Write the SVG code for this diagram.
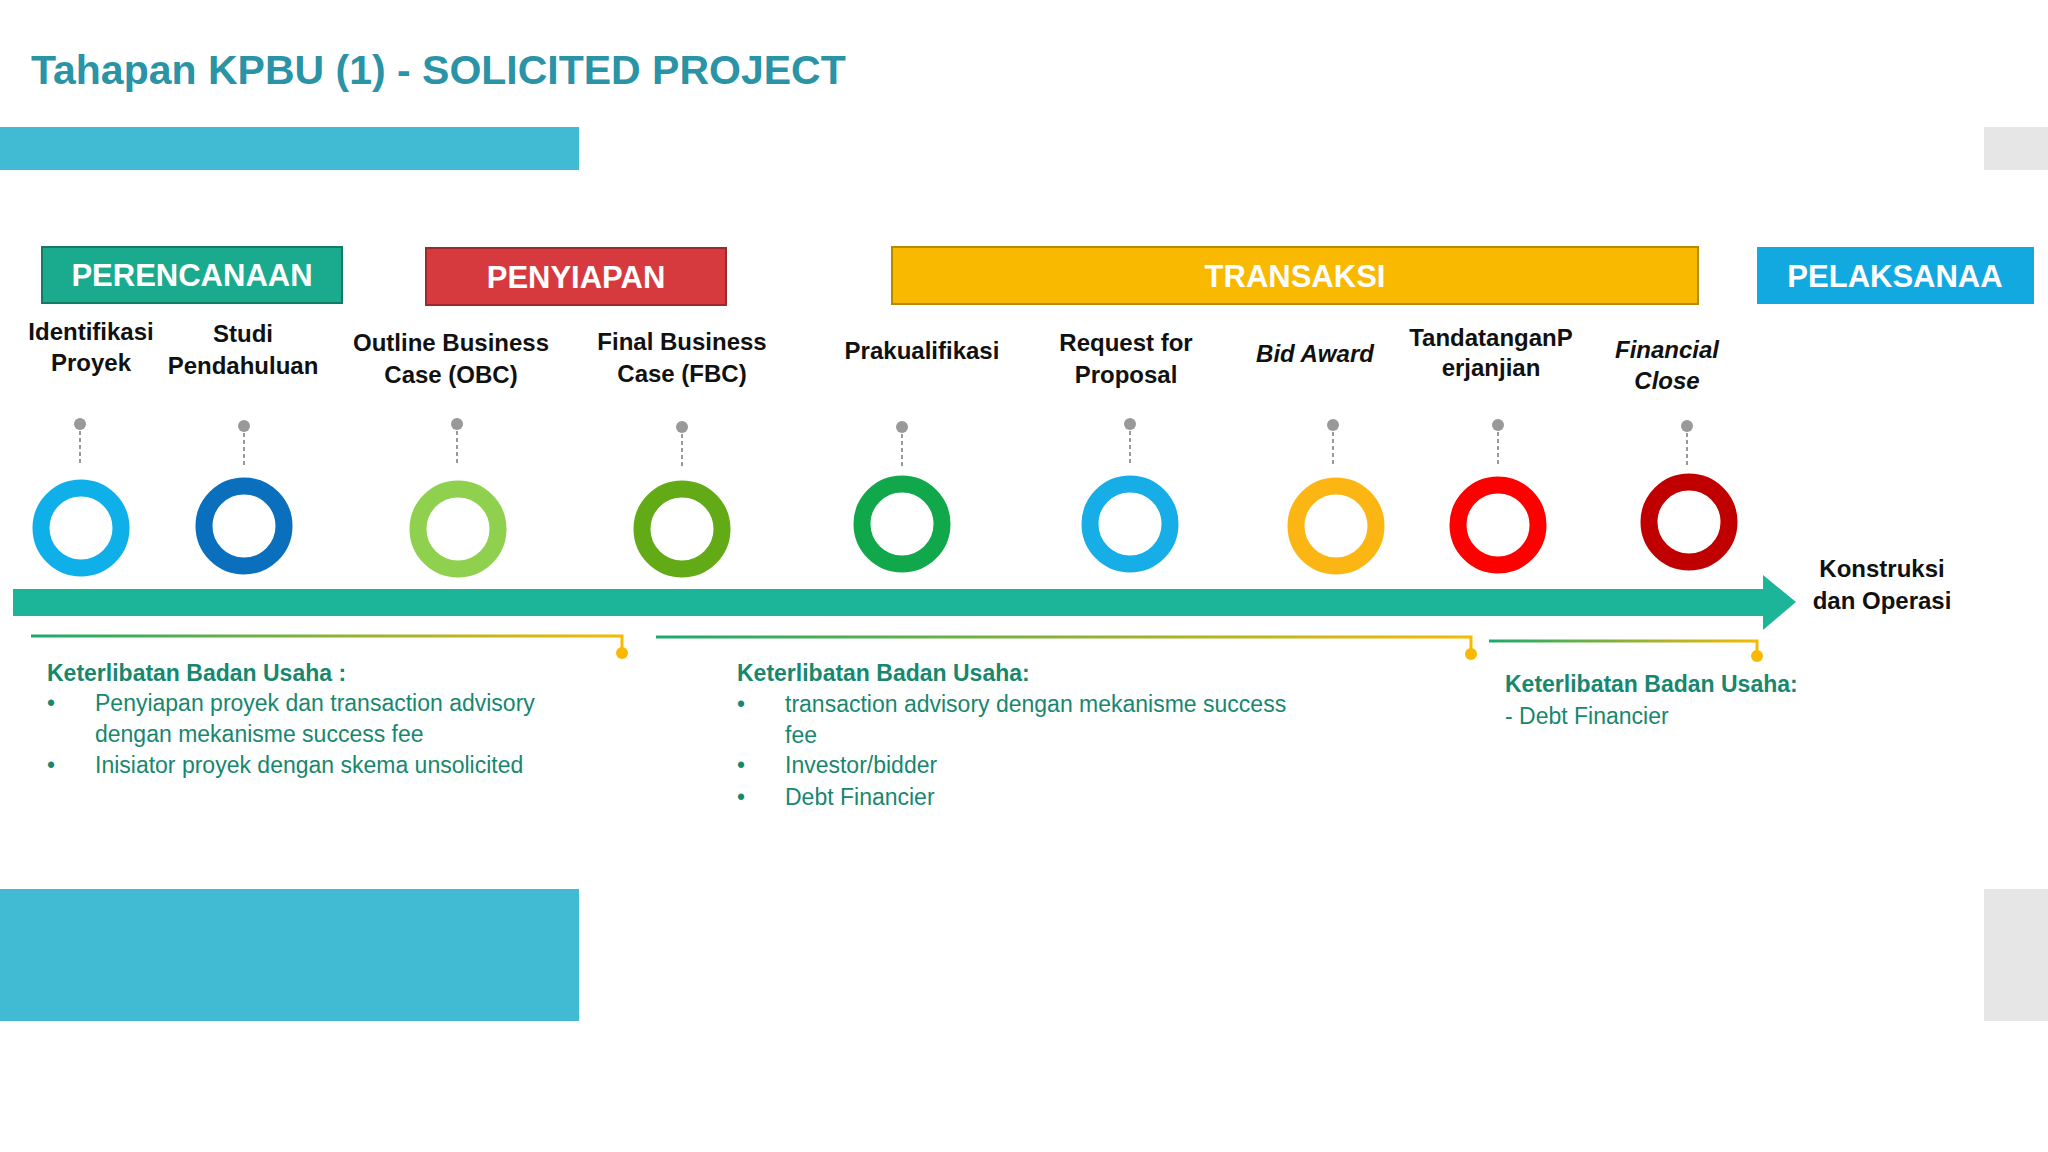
<svg xmlns="http://www.w3.org/2000/svg" width="2048" height="1152" viewBox="0 0 2048 1152">
<defs>
<style>
.t{font-family:"Liberation Sans",Arial,sans-serif}
.lab{font-family:"Liberation Sans",Arial,sans-serif;font-weight:bold;font-size:24px;fill:#111;text-anchor:middle}
.ph{font-family:"Liberation Sans",Arial,sans-serif;font-weight:bold;font-size:31px;fill:#fff;text-anchor:middle}
.ring{fill:none;stroke-width:17}
.pin{stroke:#999;stroke-width:2;stroke-dasharray:4 3}
.dot{fill:#999}
.bt{font-family:"Liberation Sans",Arial,sans-serif;font-size:23px;fill:#17876e}
.bh{font-weight:bold}
.br{fill:none;stroke-width:3}
</style>
<linearGradient id="g" x1="0" x2="1" y1="0" y2="0"><stop offset="0" stop-color="#1aaa6e"/><stop offset="1" stop-color="#f8b900"/></linearGradient>
</defs>
<rect width="2048" height="1152" fill="#fff"/>
<text class="t" x="31" y="84" font-size="41" font-weight="bold" fill="#2a93a6">Tahapan KPBU (1)  -  SOLICITED PROJECT</text>
<rect x="0" y="127" width="579" height="43" fill="#41bad4"/>
<rect x="1984" y="127" width="64" height="43" fill="#e6e6e6"/>
<rect x="0" y="889" width="579" height="132" fill="#41bad4"/>
<rect x="1984" y="889" width="64" height="132" fill="#e6e6e6"/>
<g id="phase-perencanaan"><rect x="42" y="247" width="300" height="56" fill="#1aaa8e" stroke="#137a66" stroke-width="2"/><text class="ph" x="192" y="286">PERENCANAAN</text></g>
<g id="phase-penyiapan"><rect x="426" y="248" width="300" height="57" fill="#d63a3e" stroke="#9a2a2c" stroke-width="2"/><text class="ph" x="576" y="288">PENYIAPAN</text></g>
<g id="phase-transaksi"><rect x="892" y="247" width="806" height="57" fill="#f8b900" stroke="#b58a00" stroke-width="2"/><text class="ph" x="1295" y="287">TRANSAKSI</text></g>
<g id="phase-pelaksanaan"><rect x="1757" y="247" width="277" height="57" fill="#12a9e1"/><text class="ph" x="1895" y="287">PELAKSANAA</text></g>
<g id="connectors">
<rect x="13" y="589" width="1760" height="27" fill="#1db59a"/>
<polygon points="1763,575 1796,602 1763,630" fill="#1db59a"/>
<line class="pin" x1="80" y1="424" x2="80" y2="464"/><circle class="dot" cx="80" cy="424" r="6"/>
<line class="pin" x1="244" y1="426" x2="244" y2="466"/><circle class="dot" cx="244" cy="426" r="6"/>
<line class="pin" x1="457" y1="424" x2="457" y2="464"/><circle class="dot" cx="457" cy="424" r="6"/>
<line class="pin" x1="682" y1="427" x2="682" y2="467"/><circle class="dot" cx="682" cy="427" r="6"/>
<line class="pin" x1="902" y1="427" x2="902" y2="467"/><circle class="dot" cx="902" cy="427" r="6"/>
<line class="pin" x1="1130" y1="424" x2="1130" y2="464"/><circle class="dot" cx="1130" cy="424" r="6"/>
<line class="pin" x1="1333" y1="425" x2="1333" y2="465"/><circle class="dot" cx="1333" cy="425" r="6"/>
<line class="pin" x1="1498" y1="425" x2="1498" y2="465"/><circle class="dot" cx="1498" cy="425" r="6"/>
<line class="pin" x1="1687" y1="426" x2="1687" y2="466"/><circle class="dot" cx="1687" cy="426" r="6"/>
<path class="br" d="M31 636 H622 V653" stroke="url(#g)"/><circle cx="622" cy="653" r="6" fill="#f8b900"/>
<path class="br" d="M656 637 H1471 V654" stroke="url(#g)"/><circle cx="1471" cy="654" r="6" fill="#f8b900"/>
<path class="br" d="M1489 641 H1757 V656" stroke="url(#g)"/><circle cx="1757" cy="656" r="6" fill="#f8b900"/>
</g>
<g id="n1"><circle class="ring" cx="81" cy="528" r="40" stroke="#0fb0ea"/><text class="lab" x="91" y="340">Identifikasi</text><text class="lab" x="91" y="371">Proyek</text></g>
<g id="n2"><circle class="ring" cx="244" cy="526" r="40" stroke="#0a6fbd"/><text class="lab" x="243" y="342">Studi</text><text class="lab" x="243" y="374">Pendahuluan</text></g>
<g id="n3"><circle class="ring" cx="458" cy="529" r="40" stroke="#8fd14f"/><text class="lab" x="451" y="351">Outline Business</text><text class="lab" x="451" y="383">Case (OBC)</text></g>
<g id="n4"><circle class="ring" cx="682" cy="529" r="40" stroke="#62ab16"/><text class="lab" x="682" y="350">Final Business</text><text class="lab" x="682" y="382">Case (FBC)</text></g>
<g id="n5"><circle class="ring" cx="902" cy="524" r="40" stroke="#10a84a"/><text class="lab" x="922" y="359">Prakualifikasi</text></g>
<g id="n6"><circle class="ring" cx="1130" cy="524" r="40" stroke="#17aee8"/><text class="lab" x="1126" y="351">Request for</text><text class="lab" x="1126" y="383">Proposal</text></g>
<g id="n7"><circle class="ring" cx="1336" cy="526" r="40" stroke="#fbb614"/><text class="lab" x="1315" y="362" font-style="italic">Bid Award</text></g>
<g id="n8"><circle class="ring" cx="1498" cy="525" r="40" stroke="#fe0000"/><text class="lab" x="1491" y="346">TandatanganP</text><text class="lab" x="1491" y="376">erjanjian</text></g>
<g id="n9"><circle class="ring" cx="1689" cy="522" r="40" stroke="#c00000"/><text class="lab" x="1667" y="358" font-style="italic">Financial</text><text class="lab" x="1667" y="389" font-style="italic">Close</text></g>
<g id="end"><text class="lab" x="1882" y="577">Konstruksi</text><text class="lab" x="1882" y="609">dan Operasi</text></g>
<g id="b1"><text class="bt bh" x="47" y="681">Keterlibatan Badan Usaha :</text>
<text class="bt" x="47" y="711">•</text><text class="bt" x="95" y="711">Penyiapan proyek dan transaction advisory</text>
<text class="bt" x="95" y="742">dengan mekanisme success fee</text>
<text class="bt" x="47" y="773">•</text><text class="bt" x="95" y="773">Inisiator proyek dengan skema unsolicited</text></g>
<g id="b2"><text class="bt bh" x="737" y="681">Keterlibatan Badan Usaha:</text>
<text class="bt" x="737" y="712">•</text><text class="bt" x="785" y="712">transaction advisory dengan mekanisme success</text>
<text class="bt" x="785" y="743">fee</text>
<text class="bt" x="737" y="773">•</text><text class="bt" x="785" y="773">Investor/bidder</text>
<text class="bt" x="737" y="805">•</text><text class="bt" x="785" y="805">Debt Financier</text></g>
<g id="b3"><text class="bt bh" x="1505" y="692">Keterlibatan Badan Usaha:</text>
<text class="bt" x="1505" y="724">-  Debt Financier</text></g>
</svg>
